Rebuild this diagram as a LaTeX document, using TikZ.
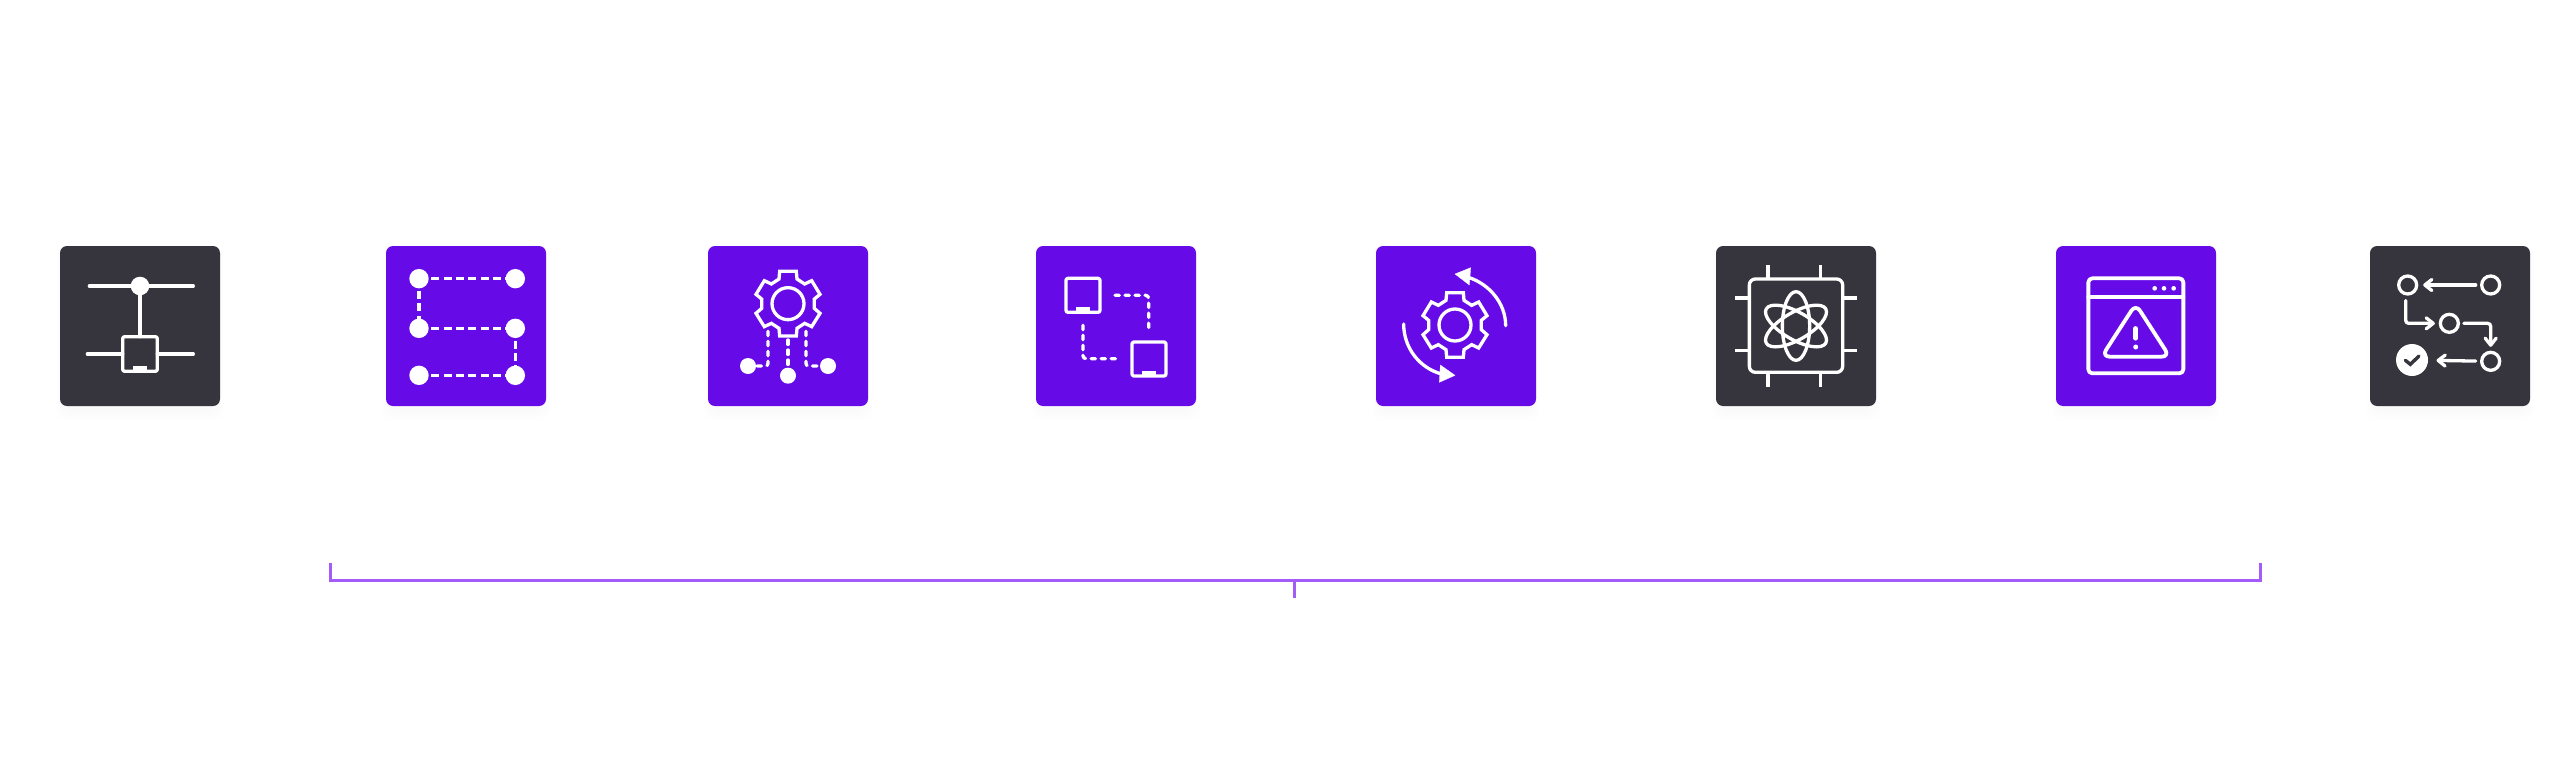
\documentclass[tikz,border=0pt]{standalone}
\usetikzlibrary{arrows.meta}
\definecolor{tilepurple}{HTML}{660BE8}
\definecolor{tiledark}{HTML}{36353D}
\definecolor{bracketc}{HTML}{A35CFA}
\tikzset{
  tilebox/.style={rounded corners=7pt,minimum size=160pt,inner sep=0pt,outer sep=0pt,draw=none},
  icon/.style={draw=white,line width=3.3pt,line cap=round,line join=round},
  dashA/.style={icon,dash pattern=on 8pt off 4.3pt,line cap=butt},
  dashB/.style={icon,dash pattern=on 4.4pt off 5.6pt,line cap=round},
  dot/.style={circle,fill=white,draw=none,inner sep=0pt,outer sep=0pt,minimum size=#1},
  ring/.style={circle,draw=white,fill=none,line width=3.3pt,inner sep=0pt,outer sep=0pt,minimum size=18pt},
  flow/.style={icon,-{Straight Barb[length=7pt,width=11pt,line width=3.3pt,round]},rounded corners=3pt},
  wedge/.style={fill=white,draw=white,line width=.3pt,line join=round},
  brace/.style={draw=bracketc,line width=3pt,line cap=butt,line join=miter}
}
\newcommand{\tile}[3]{%
  \foreach \k in {0,2,...,8}
    \fill[black,opacity=.004,rounded corners=9pt] ({#2+4-\k},{254-\k}) rectangle ({#2+156+\k},{412+\k});
  \node[tilebox,fill=#3] (#1) at ({#2+80},326) {};
}
\newcommand{\gearicon}[2]{%
  \begin{scope}[shift={(#1,#2)}]
    \draw[icon,line join=miter] (-25,-97)--(25,-97)--(27,-74)--(50,-59)--(71,-69)--(96,-28)--(79,-14)--(79,14)--(96,29)--(71,69)--(50,59)--(27,74)--(25,97)--(-25,97)--(-27,74)--(-50,59)--(-71,69)--(-96,29)--(-79,14)--(-79,-14)--(-96,-28)--(-71,-69)--(-50,-59)--(-27,-74)--cycle;
    \draw[icon] (0,0) circle[radius=48];
  \end{scope}
}
\begin{document}
\begin{tikzpicture}[x=1pt,y=-1pt]
\useasboundingbox (0,0) rectangle (2570,766);
\fill[white] (0,0) rectangle (2570,766);
\tile{tA}{60}{tiledark}
\tile{tB}{386}{tilepurple}
\tile{tC}{708}{tilepurple}
\tile{tD}{1036}{tilepurple}
\tile{tE}{1376}{tilepurple}
\tile{tF}{1716}{tiledark}
\tile{tG}{2056}{tilepurple}
\tile{tH}{2370}{tiledark}

% icon 1
\begin{scope}[shift={(40,230)},x=.33333pt,y=-.33333pt]
  \draw[icon] (148,168) -- (460,168);
  \draw[icon] (300,168) -- (300,320);
  \draw[icon] (142,372) -- (248,372);
  \draw[icon] (352,372) -- (460,372);
  \draw[icon,rounded corners=2pt] (248,320) rectangle (352,424);
  \fill[white] (278,408) rectangle (322,424);
  \node[dot=18.6pt] (a1) at (300,168) {};
\end{scope}

% icon 2
\begin{scope}[shift={(370,230)},x=.33333pt,y=-.33333pt]
  \node[dot=19.4pt] (b1) at (147,146) {};
  \node[dot=19.4pt] (b2) at (436,146) {};
  \node[dot=19.4pt] (b3) at (147,295) {};
  \node[dot=19.4pt] (b4) at (436,295) {};
  \node[dot=19.4pt] (b5) at (147,436) {};
  \node[dot=19.4pt] (b6) at (436,436) {};
  \draw[dashA] (b1.center) -- (b2.center);
  \draw[dashA] (b1.center) -- (b3.center);
  \draw[dashA] (b3.center) -- (b4.center);
  \draw[dashA] (b4.center) -- (b6.center);
  \draw[dashA] (b5.center) -- (b6.center);
\end{scope}

% icon 3
\begin{scope}[shift={(695,230)},x=.33333pt,y=-.33333pt]
  \gearicon{279}{221}
  \node[dot=16pt] (c1) at (159,408) {};
  \node[dot=16pt] (c2) at (279,437) {};
  \node[dot=16pt] (c3) at (399,408) {};
  \coordinate (c1s) at (219,304);
  \coordinate (c2s) at (279,330);
  \coordinate (c3s) at (333,304);
  \draw[dashB,rounded corners=2.5pt] (c1s) -- (219,408) -- (c1.center);
  \draw[dashB] (c2s) -- (c2.center);
  \draw[dashB,rounded corners=2.5pt] (c3s) -- (333,408) -- (c3.center);
\end{scope}

% icon 4
\begin{scope}[shift={(1020,230)},x=.33333pt,y=-.33333pt]
  \draw[icon,rounded corners=2pt] (138,145) rectangle (240,247);
  \fill[white] (168,232) rectangle (210,247);
  \draw[icon,rounded corners=2pt] (336,336) rectangle (438,438);
  \fill[white] (366,423) rectangle (408,438);
  \draw[dashB,rounded corners=3pt] (285,196) -- (386,196) -- (386,297);
  \draw[dashB,rounded corners=3pt] (189,286) -- (189,386) -- (292,386);
\end{scope}

% icon 5
\begin{scope}[shift={(1360,230)},x=.33333pt,y=-.33333pt]
  \gearicon{285}{285}
  \draw[icon] (437,287) .. controls (437,220) and (388,162) .. (325,142);
  \fill[wedge] (285,132) -- (332,113) -- (328,165) -- cycle;
  \draw[icon] (131,282) .. controls (131,355) and (180,415) .. (245,432);
  \fill[wedge] (285,436) -- (241,405) -- (238,457) -- cycle;
\end{scope}

% icon 6
\begin{scope}[shift={(1700,230)},x=.33333pt,y=-.33333pt]
  \draw[icon,rounded corners=6pt] (148,147) rectangle (428,427);
  \foreach \p in {204,362}{
    \draw[icon,line cap=butt] (\p,105) -- (\p,147);
    \draw[icon,line cap=butt] (\p,427) -- (\p,470);
    \draw[icon,line cap=butt] (105,\p) -- (148,\p);
    \draw[icon,line cap=butt] (428,\p) -- (470,\p);
  }
  \draw[icon] (288,288) ellipse[x radius=41,y radius=103];
  \draw[icon,rotate around={60:(288,288)}] (288,288) ellipse[x radius=41,y radius=103];
  \draw[icon,rotate around={120:(288,288)}] (288,288) ellipse[x radius=41,y radius=103];
\end{scope}

% icon 7
\begin{scope}[shift={(2045,230)},x=.33333pt,y=-.33333pt]
  \draw[icon,line width=3.8pt,rounded corners=4pt] (130,145) rectangle (415,430);
  \draw[icon,line width=3.8pt] (130,202) -- (415,202);
  \foreach \p in {329,357,386}
    \fill[white] (\p,175) circle[radius=7];
  \draw[icon,line width=3.8pt,rounded corners=8pt] (272,222) -- (170,380) -- (374,380) -- cycle;
  \draw[icon,line width=4.4pt] (272,295) -- (272,325);
  \fill[white] (272,351) circle[radius=7.5];
\end{scope}

% icon 8
\begin{scope}[shift={(2355,230)},x=.33333pt,y=-.33333pt]
  \node[ring] (h1) at (158,165) {};
  \node[ring] (h2) at (407,165) {};
  \node[ring] (h3) at (283,280) {};
  \node[ring] (h4) at (407,394) {};
  \node[dot=32pt] (h5) at (171,390) {};
  \draw[draw=tiledark,line width=3.4pt,line cap=round,line join=miter] (151,391) -- (166,403) -- (192,378);
  \draw[flow,shorten <=6pt,shorten >=6.5pt] (h2) -- (h1);
  \draw[flow,shorten <=6.5pt,shorten >=5.5pt] (h1.south) ++(-6,0) |- (h3.west);
  \draw[flow,shorten <=5.5pt,shorten >=5.5pt] (h3.east) -| (h4.north);
  \draw[flow,shorten <=6pt,shorten >=8.5pt] (h4) -- (h5);
\end{scope}

% bracket
\coordinate (bl) at (330,563);
\coordinate (br) at (2260,563);
\coordinate (bm) at (1294.7,580.5);
\coordinate (bt) at (1294.7,598);
\draw[brace] (bl) |- (bm) -| (br);
\draw[brace] (bm) -- (bt);
\end{tikzpicture}
\end{document}
